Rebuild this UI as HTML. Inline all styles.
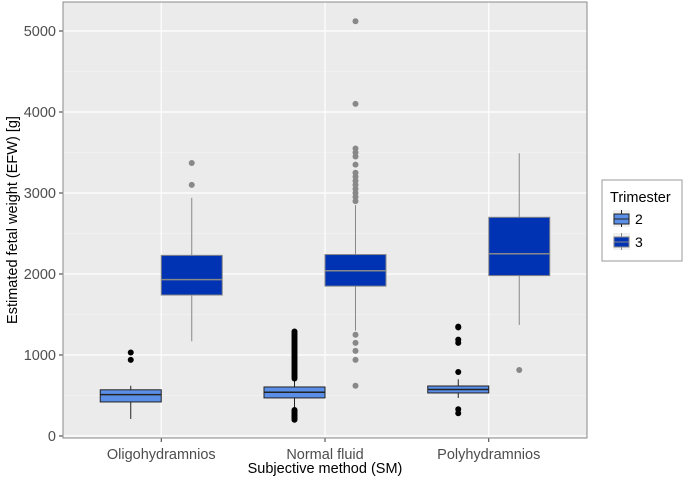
<!DOCTYPE html>
<html><head><meta charset="utf-8"><style>
body{margin:0;background:#fff;}
svg{display:block;font-family:"Liberation Sans",Arial,sans-serif;}
</style></head><body>
<svg id="chart" width="685" height="484"></svg>
<script>
const categories=["Oligohydramnios","Normal fluid","Polyhydramnios"];
const trimesters=["2","3"];
// [low whisker, q1, median, q3, high whisker] per category, per trimester
const statsT2=[[210,420,510,570,620],[330,470,540,605,700],[470,531,574,617,700]];
const statsT3=[[1170,1740,1930,2230,2940],[1300,1850,2040,2240,2850],[1370,1980,2250,2700,3490]];
const outliersT2=[[940,1030],
 [200,215,230,245,260,275,290,305,320,710,730,750,770,790,810,830,850,870,890,910,930,950,970,990,1010,1030,1050,1070,1090,1110,1130,1150,1170,1190,1210,1230,1250,1270,1290],
 [280,330,790,1150,1190,1340,1350]];
const outliersT3=[[3100,3370],
 [620,940,1050,1150,1250,2900,2950,3000,3050,3100,3150,3200,3250,3350,3450,3500,3550,4100,5120],
 [815]];
const yTicks=[0,1000,2000,3000,4000,5000];
const fills=["#5b8ee6","#0033b3"];

const svg=document.getElementById('chart');
const NS="http://www.w3.org/2000/svg";
const L=63,R=587,T=2,B=438;
const ymin=-25,ymax=5358;
function y(v){return B-(v-ymin)/(ymax-ymin)*(B-T);}
const step=(R-L)/3.2;
function xc(i){return L+(i+0.6)*step;}
function mk(tag,attrs,parent){const e=document.createElementNS(NS,tag);for(const k in attrs)e.setAttribute(k,attrs[k]);(parent||svg).appendChild(e);return e;}

const panel=mk('rect',{x:L,y:T,width:R-L,height:B-T,fill:'#ebebeb'});


for(let v=500;v<5360;v+=1000){mk('line',{x1:L,x2:R,y1:y(v),y2:y(v),stroke:'#f5f5f5','stroke-width':0.6});}
yTicks.forEach(v=>{
 mk('line',{x1:L,x2:R,y1:y(v),y2:y(v),stroke:'#fff','stroke-width':1.2});
 mk('line',{x1:L-4,x2:L,y1:y(v),y2:y(v),stroke:'#333','stroke-width':1});
 const t=mk('text',{x:L-7,y:y(v)+5,'text-anchor':'end','font-size':14.5,fill:'#4d4d4d'});
 t.textContent=v;
 
 
});
categories.forEach((c,i)=>{
 mk('line',{x1:xc(i),x2:xc(i),y1:T,y2:B,stroke:'#fff','stroke-width':1.2});
 mk('line',{x1:xc(i),x2:xc(i),y1:B,y2:B+4,stroke:'#333','stroke-width':1});
 const t=mk('text',{x:xc(i),y:B+21,'text-anchor':'middle','font-size':14.5,fill:'#4d4d4d'});
 t.textContent=c;
 
 
});
const bw=61;
function drawBox(cx,s,out,fill,lineCol,outCol,name){
 const g=mk('g',{});
 
 
 mk('line',{x1:cx,x2:cx,y1:y(s[0]),y2:y(s[1]),stroke:lineCol,'stroke-width':1},g);
 mk('line',{x1:cx,x2:cx,y1:y(s[3]),y2:y(s[4]),stroke:lineCol,'stroke-width':1},g);
 mk('rect',{x:cx-bw/2,y:y(s[3]),width:bw,height:y(s[1])-y(s[3]),fill:fill,stroke:lineCol,'stroke-width':1},g);
 mk('line',{x1:cx-bw/2,x2:cx+bw/2,y1:y(s[2]),y2:y(s[2]),stroke:lineCol,'stroke-width':1.5},g);
 out.forEach(v=>{mk('circle',{cx:cx,cy:y(v),r:3,fill:outCol},g);});
}
categories.forEach((c,i)=>{
 drawBox(xc(i)-bw/2,statsT2[i],outliersT2[i],fills[0],'#222','#000','box-t2-'+i);
 drawBox(xc(i)+bw/2,statsT3[i],outliersT3[i],fills[1],'#888','#888','box-t3-'+i);
});
mk('rect',{x:L,y:T,width:R-L,height:B-T,fill:'none',stroke:'#888','stroke-width':1});
const xt=mk('text',{x:325,y:473,'text-anchor':'middle','font-size':14.5,fill:'#000'});
xt.textContent="Subjective method (SM)";


const yt=mk('text',{x:0,y:0,'text-anchor':'middle','font-size':14.5,fill:'#000',transform:'translate(17,'+(T+B)/2+') rotate(-90)'});
yt.textContent="Estimated fetal weight (EFW) [g]";


// legend
const lg=mk('g',{});


mk('rect',{x:602,y:180,width:80,height:81,fill:'#fff',stroke:'#999','stroke-width':1},lg);
const lt=mk('text',{x:610,y:202,'font-size':14.5,fill:'#000'},lg);
lt.textContent="Trimester";
trimesters.forEach((tr,k)=>{
 const yy=212+k*23;
 mk('rect',{x:613,y:yy-2,width:17,height:17,fill:'#f0f0f0'},lg);
 mk('line',{x1:621.5,x2:621.5,y1:yy-2,y2:yy+15,stroke:k?'#888':'#222'},lg);
 mk('rect',{x:614,y:yy+2,width:15,height:10,fill:fills[k],stroke:k?'#888':'#222'},lg);
 mk('line',{x1:614,x2:629,y1:yy+7,y2:yy+7,stroke:k?'#888':'#222'},lg);
 const t=mk('text',{x:635,y:yy+12,'font-size':14,fill:'#000'},lg);
 t.textContent=tr;
 
 
});
</script>
</body></html>
